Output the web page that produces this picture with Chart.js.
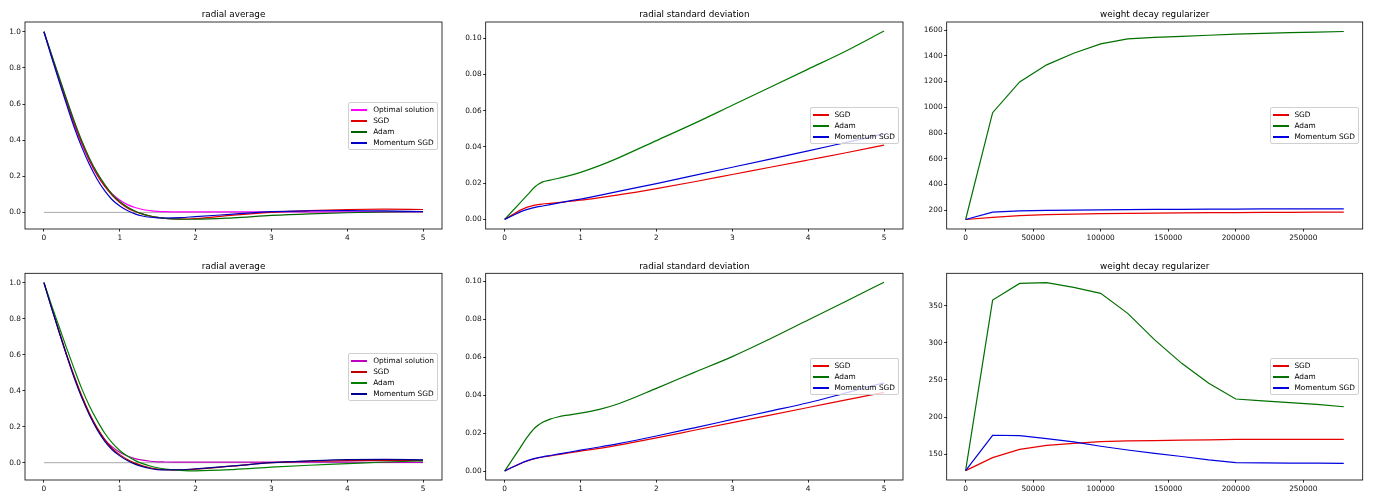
<!DOCTYPE html>
<html><head><meta charset="utf-8">
<script src="https://cdn.jsdelivr.net/npm/chart.js@4.4.1/dist/chart.umd.min.js"></script>
<style>
html,body{margin:0;padding:0;background:#fff;}
body{width:1376px;height:501px;position:relative;overflow:hidden;font-family:"DejaVu Sans",sans-serif;}
.cell{position:absolute;}
.cell canvas{display:block;}
.legend{position:absolute;background:rgba(255,255,255,0.8);border:1px solid #d0d0d0;border-radius:2px;font-family:"DejaVu Sans",sans-serif;font-size:7.4px;color:#000;padding:1px 3px 1px 2px;white-space:nowrap;box-sizing:border-box;}
.legend .row{height:11px;line-height:11px;display:flex;align-items:flex-start;}
.legend .sw{width:16px;height:2px;margin-top:5px;margin-right:5.7px;flex:none;}
</style></head><body>
<script>
// ---------- data ----------
const radialX = [0,0.1,0.2,0.3,0.4,0.5,0.6,0.7,0.8,0.9,1.0,1.1,1.2,1.3,1.4,1.5,1.6,1.8,2.0,2.5,3.0,3.5,4.0,4.5,5.0];
const optTop  = [1.0,0.866,0.734,0.606,0.486,0.378,0.285,0.207,0.147,0.102,0.068,0.043,0.027,0.016,0.01,0.006,0.004,0.003,0.003,0.003,0.003,0.003,0.003,0.003,0.003];
const sgdTop  = [1.0,0.87,0.74,0.615,0.495,0.385,0.29,0.21,0.145,0.095,0.055,0.025,0.005,-0.01,-0.02,-0.028,-0.033,-0.037,-0.034,-0.015,0.0,0.01,0.016,0.018,0.016];
const adamTop = [1.0,0.875,0.75,0.625,0.505,0.395,0.30,0.22,0.155,0.10,0.06,0.03,0.008,-0.008,-0.02,-0.028,-0.033,-0.037,-0.038,-0.03,-0.017,-0.008,-0.002,0.002,0.004];
const momTop  = [1.0,0.86,0.725,0.595,0.47,0.36,0.265,0.185,0.12,0.07,0.035,0.01,-0.008,-0.02,-0.027,-0.03,-0.031,-0.029,-0.023,-0.01,0.004,0.009,0.01,0.008,0.005];
const optBot  = [1.0,0.86,0.725,0.595,0.475,0.365,0.27,0.19,0.13,0.088,0.058,0.037,0.023,0.014,0.008,0.005,0.004,0.003,0.003,0.003,0.003,0.003,0.003,0.002,0.002];
const sgdBot  = [1.0,0.865,0.73,0.6,0.48,0.37,0.275,0.195,0.13,0.08,0.045,0.018,-0.002,-0.017,-0.028,-0.035,-0.039,-0.04,-0.036,-0.018,0.0,0.008,0.012,0.013,0.013];
const adamBot = [1.0,0.875,0.755,0.635,0.52,0.41,0.315,0.235,0.165,0.11,0.068,0.037,0.013,-0.005,-0.018,-0.028,-0.035,-0.042,-0.045,-0.038,-0.025,-0.014,-0.005,0.004,0.01];
const momBot  = [1.0,0.86,0.725,0.595,0.47,0.36,0.265,0.185,0.12,0.072,0.038,0.012,-0.008,-0.022,-0.032,-0.038,-0.04,-0.039,-0.034,-0.018,0.0,0.01,0.017,0.018,0.016];
const zeroX = [0,5];
const zeroY = [0,0];

const stdX = [0,0.1,0.2,0.3,0.4,0.5,0.6,0.7,0.8,1.0,1.25,1.5,2.0,2.5,3.0,3.5,4.0,4.5,5.0];
const sgdStdTop  = [0,0.0025,0.005,0.0068,0.0079,0.0085,0.0089,0.0093,0.0097,0.0106,0.012,0.0135,0.017,0.0208,0.0248,0.0288,0.0328,0.0368,0.041];
const adamStdTop = [0,0.0045,0.009,0.0135,0.018,0.0207,0.0217,0.0226,0.0236,0.026,0.0297,0.034,0.0435,0.053,0.063,0.073,0.083,0.093,0.104];
const momStdTop  = [0,0.002,0.004,0.0055,0.0066,0.0074,0.0082,0.009,0.0098,0.0112,0.0133,0.0155,0.0198,0.0243,0.0288,0.0333,0.0378,0.0425,0.0472];
const sgdStdBot  = [0,0.002,0.0038,0.0053,0.0065,0.0074,0.008,0.0087,0.0093,0.0105,0.012,0.0137,0.0175,0.0215,0.0255,0.0295,0.0335,0.0375,0.0415];
const adamStdBot = [0,0.006,0.012,0.018,0.0228,0.0257,0.0274,0.0285,0.0293,0.0305,0.0325,0.0355,0.0436,0.052,0.0603,0.0697,0.0796,0.0895,0.0995];
const momStdBot  = [0,0.002,0.0039,0.0055,0.0067,0.0075,0.0082,0.0089,0.0096,0.011,0.0127,0.0145,0.0185,0.0228,0.0272,0.0316,0.036,0.0412,0.0465];

const wdX = [0,20000,40000,60000,80000,100000,120000,140000,160000,180000,200000,220000,240000,260000,280000];
const sgdWdTop  = [128,145,158,165,170,173,176,178,180,181,182,183,184,185,185];
const adamWdTop = [128,958,1197,1330,1420,1493,1532,1543,1552,1560,1568,1575,1580,1585,1589];
const momWdTop  = [128,185,195,198,200,203,205,206,207,208,209,210,210,211,211];
const sgdWdBot  = [128,145.5,156.7,162,164.8,167,168,168.5,169,169.5,170.2,170.2,170.2,170.2,170.2];
const adamWdBot = [128,357.6,380,381,374.7,366.6,339.7,304,272.4,245.5,224.4,221.8,219.6,217.3,214];
const momWdBot  = [128,175.6,175.2,171,166.6,160.8,155.8,151.3,147,142.4,138.8,138.5,138.2,138,137.8];

// tick labels
const radialXTicks = [0,1,2,3,4,5];
const radialYTicks = [0,0.2,0.4,0.6,0.8,1.0];
const stdYTicks = [0,0.02,0.04,0.06,0.08,0.10];
const wdXTicks = [0,50000,100000,150000,200000,250000];
const wdYTicksTop = [200,400,600,800,1000,1200,1400,1600];
const wdYTicksBot = [150,200,250,300,350];

const titles = ['radial average','radial standard deviation','weight decay regularizer'];
const names = ['Optimal solution','SGD','Adam','Momentum SGD'];

// ---------- layout ----------
const FONT = 'DejaVu Sans';
const framePlugin = {
  id:'frame',
  afterDatasetsDraw(chart){
    const {ctx, chartArea:a} = chart;
    ctx.save(); ctx.strokeStyle='#000'; ctx.lineWidth=0.8;
    ctx.strokeRect(a.left, a.top, a.right-a.left, a.bottom-a.top);
    ctx.restore();
  }
};

function pts(xs, ys){ return xs.map((x,i)=>({x:x, y:ys[i]})); }

const cols = [
  {left:0, width:460, yw:25, rp:18},
  {left:460, width:456, yw:25.7, rp:13},
  {left:916, width:460, yw:30.7, rp:13.3}
];
const rows = [
  {top:0, height:250, padTop:9.7},
  {top:251, height:250, padTop:10.0}
];

const panels = [
  {r:0,c:0, xr:[-0.25,5.25], yr:[-0.092,1.054], xt:radialXTicks, yt:radialYTicks, yd:1, smooth:true, zero:true,
   series:[[names[0],optTop,'#ff00ff'],[names[1],sgdTop,'#e00000'],[names[2],adamTop,'#006400'],[names[3],momTop,'#0000c8']], x:radialX},
  {r:0,c:1, xr:[-0.25,5.25], yr:[-0.0053,0.109], xt:radialXTicks, yt:stdYTicks, yd:2, smooth:true,
   series:[[names[1],sgdStdTop,'#e80000'],[names[2],adamStdTop,'#007800'],[names[3],momStdTop,'#0000d8']], x:stdX},
  {r:0,c:2, xr:[-14000,294000], yr:[54,1663], xt:wdXTicks, yt:wdYTicksTop, yd:0, smooth:false,
   series:[[names[1],sgdWdTop,'#e80000'],[names[2],adamWdTop,'#007000'],[names[3],momWdTop,'#0000e0']], x:wdX},
  {r:1,c:0, xr:[-0.25,5.25], yr:[-0.096,1.052], xt:radialXTicks, yt:radialYTicks, yd:1, smooth:true, zero:true,
   series:[[names[0],optBot,'#c000c0'],[names[1],sgdBot,'#c00000'],[names[2],adamBot,'#008000'],[names[3],momBot,'#000090']], x:radialX},
  {r:1,c:1, xr:[-0.25,5.25], yr:[-0.0047,0.1042], xt:radialXTicks, yt:stdYTicks, yd:2, smooth:true,
   series:[[names[1],sgdStdBot,'#e80000'],[names[2],adamStdBot,'#007000'],[names[3],momStdBot,'#0000e0']], x:stdX},
  {r:1,c:2, xr:[-14000,294000], yr:[115.4,393.6], xt:wdXTicks, yt:wdYTicksBot, yd:0, smooth:false,
   series:[[names[1],sgdWdBot,'#e80000'],[names[2],adamWdBot,'#007000'],[names[3],momWdBot,'#0000e0']], x:wdX}
];

const XH = 21;

panels.forEach((p, idx) => {
  const col = cols[p.c], row = rows[p.r];
  const cell = document.createElement('div');
  cell.className = 'cell';
  cell.style.left = col.left+'px'; cell.style.top = row.top+'px';
  cell.style.width = col.width+'px'; cell.style.height = row.height+'px';
  const cv = document.createElement('canvas');
  cell.appendChild(cv);
  document.body.appendChild(cell);

  const n = p.series.length;
  const datasets = p.series.map((s,i)=>({
    label:s[0], data:pts(p.x, s[1]), borderColor:s[2], backgroundColor:s[2],
    borderWidth:1.2, pointRadius:0, fill:false,
    cubicInterpolationMode: p.smooth ? 'monotone' : 'default', tension:0,
    order: n - i
  }));
  if (p.zero) {
    datasets.push({label:'', data:pts(zeroX, zeroY), borderColor:'#a8a8a8', borderWidth:1, pointRadius:0, fill:false, order:n+1});
  }
  const tickFont = {family:FONT, size:7.4};
  const fmtY = v => Number(v).toFixed(p.yd);
  const chart = new Chart(cv, {
    type:'line',
    data:{datasets},
    plugins:[framePlugin],
    options:{
      responsive:true, maintainAspectRatio:false, animation:false,
      devicePixelRatio:1,
      layout:{padding:{left:0, top:0, right:col.rp, bottom:0}},
      plugins:{
        legend:{display:false}, tooltip:{enabled:false},
        title:{display:true, text:titles[p.c], fullSize:false, color:'#000',
               font:{family:FONT, size:8.8, weight:'normal', lineHeight:1.2},
               padding:{top:row.padTop, bottom:1.74}}
      },
      scales:{
        x:{type:'linear', min:p.xr[0], max:p.xr[1],
           afterBuildTicks: s => { s.ticks = p.xt.map(v=>({value:v})); },
           afterFit: s => { s.height = XH; },
           grid:{display:true, drawOnChartArea:false, drawTicks:true, tickLength:2.6, color:'#000', lineWidth:0.8},
           border:{display:false},
           ticks:{padding:2, color:'#111', font:tickFont, maxRotation:0, autoSkip:false, callback:v=>String(v)}},
        y:{type:'linear', min:p.yr[0], max:p.yr[1],
           afterBuildTicks: s => { s.ticks = p.yt.map(v=>({value:v})); },
           afterFit: s => { s.width = col.yw; },
           grid:{display:true, drawOnChartArea:false, drawTicks:true, tickLength:2.6, color:'#000', lineWidth:0.8},
           border:{display:false},
           ticks:{padding:1.5, color:'#111', font:tickFont, autoSkip:false, callback:fmtY}}
      }
    }
  });

  // legend (HTML, center right inside the plot area)
  const a = chart.chartArea;
  const lg = document.createElement('div');
  lg.className = 'legend';
  p.series.forEach(s=>{
    const r = document.createElement('div'); r.className='row';
    const sw = document.createElement('span'); sw.className='sw'; sw.style.background = s[2];
    const tx = document.createElement('span'); tx.textContent = s[0];
    r.appendChild(sw); r.appendChild(tx); lg.appendChild(r);
  });
  document.body.appendChild(lg);
  const pageRight = col.left + a.right - 3.7;
  lg.style.right = Math.round(1376 - pageRight) + 'px';
  const h = lg.getBoundingClientRect().height;
  lg.style.top = Math.round(row.top + (a.top + a.bottom)/2 - h/2) + 'px';
});
</script>
</body></html>
